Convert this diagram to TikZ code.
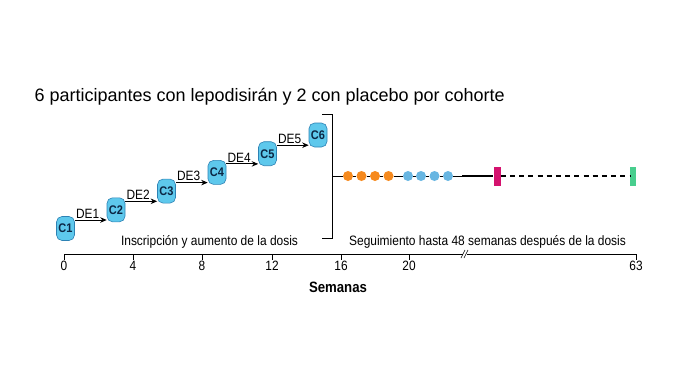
\documentclass[tikz,border=0pt]{standalone}
\usepackage{fontspec}
\setmainfont{Liberation Sans}
\newfontfamily\narrowfont[FakeStretch=0.88]{Liberation Sans}
\usetikzlibrary{positioning,arrows.meta}
\definecolor{cohortfill}{RGB}{94,200,236}
\definecolor{cohortline}{RGB}{45,130,180}
\definecolor{cohorttext}{RGB}{12,38,68}
\definecolor{placebodot}{RGB}{246,138,30}
\definecolor{drugdot}{RGB}{104,182,226}
\definecolor{endmark}{RGB}{212,18,110}
\definecolor{lastmark}{RGB}{72,206,142}

\begin{document}
\begin{tikzpicture}[x=1pt,y=-1pt,on grid,node distance=18.7pt and 50.5pt,
  cohort/.style={draw=cohortline,fill=cohortfill,line width=0.6pt,rounded corners=5.5pt,
    minimum width=18pt,minimum height=24pt,inner sep=0pt,text=cohorttext,
    font=\narrowfont\bfseries\fontsize{12.5}{12.5}\selectfont},
  dosearrow/.style={line width=0.9pt,-{Stealth[length=6.5pt,width=5.5pt]}},
  delabel/.style={above,pos=0.4,inner sep=1.2pt,font=\narrowfont\fontsize{13.5}{13.5}\selectfont},
  dot/.style={circle,minimum size=10pt,inner sep=0pt},
  tick/.style={below,inner sep=1pt,font=\narrowfont\fontsize{13.5}{13.5}\selectfont},
  phase/.style={font=\narrowfont\fontsize{13.6}{13.6}\selectfont}]
\useasboundingbox (0,0) rectangle (690,388);

\node[anchor=west,font=\fontsize{18}{18}\selectfont] (title) at (31,97)
  {6 participantes con lepodisirán y 2 con placebo por cohorte};

% cohortes
\node[cohort] (c1) at (65.5,228.5) {C1};
\node[cohort] (c2) [above right=of c1] {C2};
\node[cohort] (c3) [above right=of c2] {C3};
\node[cohort] (c4) [above right=of c3] {C4};
\node[cohort] (c5) [above right=of c4] {C5};
\node[cohort] (c6) [above right=of c5] {C6};

\path ([yshift=8.5pt]c1.east) coordinate (s1)
      ([yshift=8.5pt]c2.east) coordinate (s2)
      ([yshift=8.5pt]c3.east) coordinate (s3)
      ([yshift=8.5pt]c4.east) coordinate (s4)
      ([yshift=8.5pt]c5.east) coordinate (s5);
\draw[dosearrow] (s1) -- (s1 -| c2.west) node[delabel] {DE1};
\draw[dosearrow] (s2) -- (s2 -| c3.west) node[delabel] {DE2};
\draw[dosearrow] (s3) -- (s3 -| c4.west) node[delabel] {DE3};
\draw[dosearrow] (s4) -- (s4 -| c5.west) node[delabel] {DE4};
\draw[dosearrow] (s5) -- (s5 -| c6.west) node[delabel] {DE5};

% corchete
\coordinate (brtop) at (332,114);
\coordinate (brbot) at (332,238);
\coordinate (brmid) at (332,176);
\draw[line width=0.9pt] ([xshift=-10pt]brtop) -- (brtop) -- (brbot) -- ([xshift=-10pt]brbot);

% seguimiento
\node[dot,fill=placebodot] (o1) at (348,176) {};
\node[dot,fill=placebodot] (o2) at (361.5,176) {};
\node[dot,fill=placebodot] (o3) at (375,176) {};
\node[dot,fill=placebodot] (o4) at (388.5,176) {};
\node[dot,fill=drugdot] (b1) at (408,176) {};
\node[dot,fill=drugdot] (b2) at (421,176) {};
\node[dot,fill=drugdot] (b3) at (434.5,176) {};
\node[dot,fill=drugdot] (b4) at (448,176) {};
\node[fill=endmark,minimum width=7pt,minimum height=19pt,inner sep=0pt] (m48) at (497,176) {};
\node[fill=lastmark,minimum width=6pt,minimum height=19pt,inner sep=0pt] (m63) at (633,176) {};
\coordinate (thick) at (462,176);
\draw[line width=0.8pt] (brmid) -- (o1) -- (o2) -- (o3) -- (o4) -- (b1) -- (b2) -- (b3) -- (b4) -- (thick);
\draw[line width=2.2pt] (thick) -- (m48.west);
\draw[line width=2.2pt,dash pattern=on 5pt off 4.2pt] (m48.east) -- (m63.west);

\node[phase] (enrol) at (209.5,241.5) {Inscripción y aumento de la dosis};
\node[phase] (follow) at (487.5,241.5) {Seguimiento hasta 48 semanas después de la dosis};

% eje
\coordinate (ax0) at (64,254);
\coordinate (axbrk) at (463,254);
\coordinate (axres) at (467,254);
\coordinate (ax63) at (636,254);
\draw[line width=0.9pt] (ax0) -- (axbrk) (axres) -- (ax63);
\draw[line width=0.6pt] (461,258) -- (465,250) (464,258) -- (468,250);
\foreach \x/\t in {64/0,133/4,202/8,272/12,341/16,409/20,636/63}
  \draw[line width=0.9pt] (\x,254) -- (\x,260) node[tick] {\t};
\node[font=\narrowfont\bfseries\fontsize{15}{15}\selectfont] (weeks) at (338,287) {Semanas};
\end{tikzpicture}
\end{document}
